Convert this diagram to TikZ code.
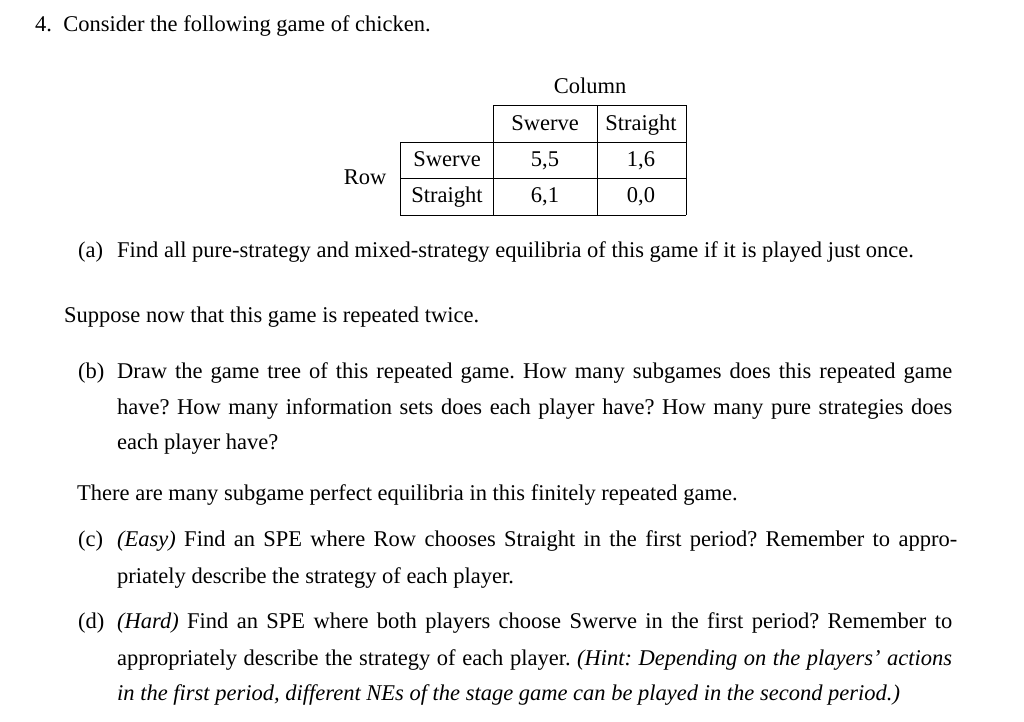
\documentclass[tikz,border=0pt]{standalone}
\usepackage{fontspec}
\setmainfont{Liberation Serif}
\frenchspacing
\begin{document}
\begin{tikzpicture}[x=1pt,y=-1pt,
  txt/.style={anchor=base west,inner sep=0pt,font=\fontsize{22.5}{27}\selectfont},
  cell/.style={anchor=base,inner sep=0pt,font=\fontsize{22.5}{27}\selectfont},
  grid/.style={line width=0.6pt}]
\useasboundingbox (0,0) rectangle (1024,721);
\node[txt] (t0) at (35,31) {4.\ \ Consider the following game of chicken.};
% table
\node[cell] (col) at (590,93) {Column};
\draw[grid] (493,105) -- (686,105);
\draw[grid] (400,142) -- (686,142);
\draw[grid] (400,178) -- (686,178);
\draw[grid] (400,215) -- (686,215);
\draw[grid] (493,105) -- (493,215);
\draw[grid] (597,105) -- (597,215);
\draw[grid] (686,105) -- (686,215);
\draw[grid] (400,142) -- (400,215);
\node[cell] (cs) at (545,130) {Swerve};
\node[cell] (cst) at (641,130) {Straight};
\node[cell] (rs) at (447,166) {Swerve};
\node[cell] (rst) at (447,202) {Straight};
\node[cell] (a11) at (545,166) {5,5};
\node[cell] (a12) at (641,166) {1,6};
\node[cell] (a21) at (545,202) {6,1};
\node[cell] (a22) at (641,202) {0,0};
\node[cell] (row) at (365,184) {Row};
% text
\node[txt] (la) at (78,257) {(a)};
\node[txt] (ta) at (117,257) {Find all pure-strategy and mixed-strategy equilibria of this game if it is played just once.};
\node[txt] (sp) at (64,322) {Suppose now that this game is repeated twice.};
\node[txt] (lb) at (78,378) {(b)};
\node[txt] (tb1) at (117,378) {\makebox[835pt][s]{Draw the game tree of this repeated game. How many subgames does this repeated game}};
\node[txt] (tb2) at (117,414) {\makebox[835pt][s]{have? How many information sets does each player have? How many pure strategies does}};
\node[txt] (tb3) at (117,449) {each player have?};
\node[txt] (th) at (77,500) {There are many subgame perfect equilibria in this finitely repeated game.};
\node[txt] (lc) at (78,546) {(c)};
\node[txt] (tc1) at (117,546) {\makebox[840pt][s]{\textit{(Easy)} Find an SPE where Row chooses Straight in the first period? Remember to appro-}};
\node[txt] (tc2) at (117,583) {priately describe the strategy of each player.};
\node[txt] (ld) at (78,628) {(d)};
\node[txt] (td1) at (117,628) {\makebox[835pt][s]{\textit{(Hard)} Find an SPE where both players choose Swerve in the first period? Remember to}};
\node[txt] (td2) at (117,665) {\makebox[835pt][s]{appropriately describe the strategy of each player. \textit{(Hint: Depending on the players' actions}}};
\node[txt] (td3) at (117,700) {\textit{in the first period, different NEs of the stage game can be played in the second period.)}};
\end{tikzpicture}
\end{document}
